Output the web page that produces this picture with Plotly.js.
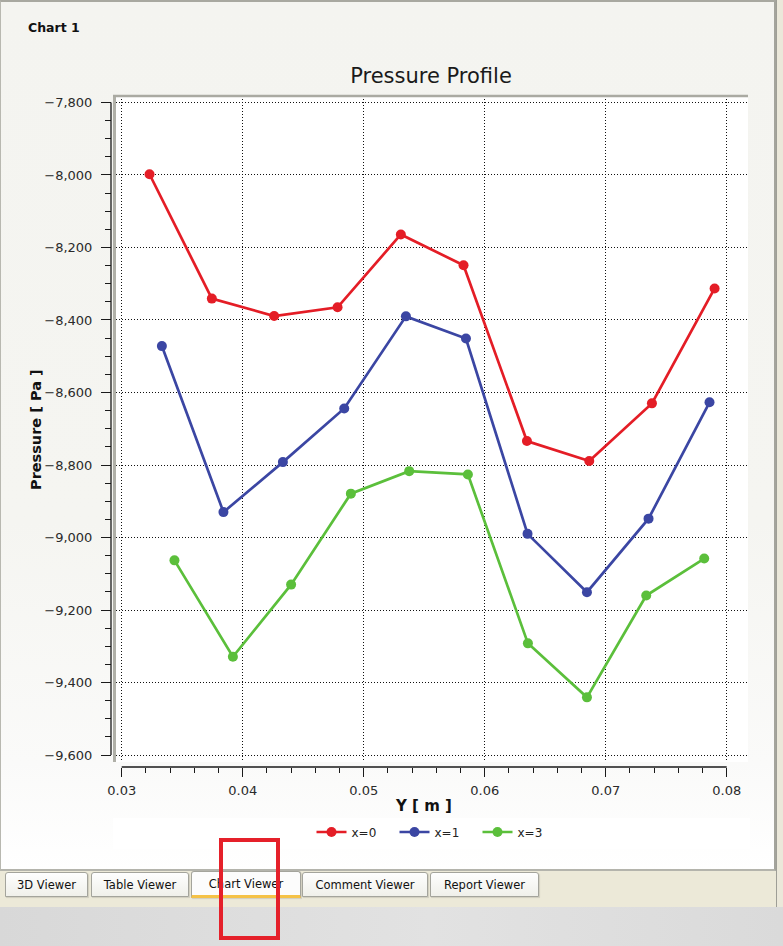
<!DOCTYPE html>
<html>
<head>
<meta charset="utf-8">
<script src="https://cdn.plot.ly/plotly-3.0.1.min.js"></script>
<style>
html,body{margin:0;padding:0;width:783px;height:946px;overflow:hidden;font-family:"DejaVu Sans",sans-serif;}
#page{position:relative;width:783px;height:946px;background:linear-gradient(90deg,#d8d8d8 0%,#e2e2e2 55%,#dadada 100%);}
#tabbar{position:absolute;left:0;top:866px;width:783px;height:41px;background:#ece9d8;}
#rightstrip{position:absolute;left:776px;top:0;width:7px;height:907px;background:#ebe8da;box-sizing:border-box;border-left:1px solid #9e9e96;}
#panel{position:absolute;left:0;top:0;width:776px;height:871px;box-sizing:border-box;border-top:2px solid #a8a8a0;border-left:1px solid #b8b8b0;border-right:2px solid #a4a49c;border-bottom:2px solid #b4b4ac;background:linear-gradient(180deg,#f4f4f0 0px,#f5f5f1 520px,#fafaf9 760px,#ffffff 869px);}
#legbox{position:absolute;left:113px;top:818px;width:637px;height:31px;background:#ffffff;}
#plot{position:absolute;left:0;top:0;width:783px;height:946px;z-index:2;}
.tab{position:absolute;top:872px;height:25px;box-sizing:border-box;border:1px solid #a4a49c;border-top-left-radius:3px;border-top-right-radius:3px;background:linear-gradient(#fefefe,#f0f0ea);font-size:11.5px;color:#111;text-align:center;line-height:24px;z-index:3;box-shadow:1px 1px 1px rgba(0,0,0,0.12);}
.tab.sel{height:27px;top:871px;background:#fcfcfc;border-bottom:3px solid #f5c247;line-height:25px;}
#redbox{position:absolute;left:219px;top:838px;width:61px;height:102px;box-sizing:border-box;border:4px solid #e5202a;z-index:5;}
</style>
</head>
<body>
<div id="page">
  <div id="tabbar"></div>
  <div id="rightstrip"></div>
  <div id="panel"></div>
  <div id="legbox"></div>
  <div id="plot"></div>
  <div class="tab" style="left:5px;width:83px;">3D Viewer</div>
  <div class="tab" style="left:91px;width:98px;">Table Viewer</div>
  <div class="tab sel" style="left:191px;width:110px;">Chart Viewer</div>
  <div class="tab" style="left:302px;width:126px;">Comment Viewer</div>
  <div class="tab" style="left:430px;width:109px;">Report Viewer</div>
  <div id="redbox"></div>
</div>
<script>
// ---- data (Y [m], Pressure [Pa]) ----
const seriesNames = ['x=0', 'x=1', 'x=3'];
const seriesColors = ['#e41d26', '#3b46a3', '#5bbf3b'];

const y_x0 = [0.0323, 0.03745, 0.0426, 0.04784, 0.05307, 0.05825, 0.06349, 0.06864, 0.07382, 0.0790];
const p_x0 = [-7998, -8341, -8389, -8365, -8164, -8249, -8734, -8789, -8630, -8313];

const y_x1 = [0.03332, 0.03841, 0.04332, 0.04839, 0.05349, 0.05845, 0.06354, 0.06845, 0.07354, 0.07858];
const p_x1 = [-8472, -8930, -8792, -8644, -8390, -8451, -8990, -9151, -8948, -8627];

const y_x3 = [0.03436, 0.03919, 0.0440, 0.04894, 0.05376, 0.05861, 0.06357, 0.06845, 0.07335, 0.07814];
const p_x3 = [-9063, -9329, -9130, -8879, -8817, -8826, -9292, -9441, -9160, -9058];

const xTickFirst = 0.03, xTickLast = 0.08, xTickStep = 0.01;
const yTickFirst = -7800, yTickLast = -9600, yTickStep = 200;

const chartLabel = 'Chart 1';
const chartTitle = 'Pressure Profile';
const xTitle = 'Y [ m ]';
const yTitle = 'Pressure [ Pa ]';

// ---- layout geometry ----
const FONT = '"DejaVu Sans", Verdana, sans-serif';
const L = 111, R = 748, T = 96, B = 767;     // plot area (axis lines at L and B)
const W = 783, H = 946;
const px = v => (v - L) / (R - L);
const py = v => (B - v) / (B - T);
const xDom = [px(116), 1];
const yDom = [py(762), 1];
const xRange = [0.029529, 0.08176];
const yRange = [-9619.3, -7782.1];

function xPaper(v) { return xDom[0] + (v - xRange[0]) / (xRange[1] - xRange[0]) * (xDom[1] - xDom[0]); }
function yPaper(v) { return yDom[0] + (v - yRange[0]) / (yRange[1] - yRange[0]) * (yDom[1] - yDom[0]); }

const xs = [y_x0, y_x1, y_x3];
const ys = [p_x0, p_x1, p_x3];
const traces = seriesNames.map((n, i) => ({
  type: 'scatter', mode: 'lines+markers', name: n,
  x: xs[i], y: ys[i],
  line: { color: seriesColors[i], width: 2.7 },
  marker: { color: seriesColors[i], size: 10 },
  cliponaxis: false
}));

const axisCol = '#1a1a1a';
const tickFont = { family: FONT, size: 13, color: '#2a2a2a' };
const layout = {
  width: W, height: H,
  margin: { l: L, r: W - R, t: T, b: H - B, pad: 0 },
  paper_bgcolor: 'rgba(0,0,0,0)',
  plot_bgcolor: '#ffffff',
  font: { family: FONT, color: '#1a1a1a' },
  title: {
    text: chartTitle, font: { family: FONT, size: 21, color: '#1a1a1a' },
    xref: 'container', yref: 'container', x: 431 / W, xanchor: 'center', y: 1 - 76 / H, yanchor: 'middle'
  },
  showlegend: true,
  legend: {
    orientation: 'h', x: px(436), xanchor: 'center', y: py(832), yanchor: 'middle',
    bgcolor: 'rgba(0,0,0,0)', font: { family: FONT, size: 12, color: '#222' },
    entrywidth: 38, entrywidthmode: 'pixels'
  },
  xaxis: {
    range: xRange, domain: xDom, anchor: 'free', position: 0,
    tick0: xTickFirst, dtick: xTickStep, tickformat: '.2f',
    ticks: 'outside', ticklen: 9, tickwidth: 1, tickcolor: axisCol,
    minor: { dtick: xTickStep / 5, ticks: 'outside', ticklen: 5, tickwidth: 1, tickcolor: axisCol, showgrid: false },
    showgrid: true, gridcolor: '#111', gridwidth: 1, griddash: '1px,2px',
    showline: false, zeroline: false,
    tickfont: tickFont, ticklabelstandoff: 2
  },
  yaxis: {
    range: yRange, domain: yDom, anchor: 'free', position: 0,
    tick0: yTickFirst, dtick: yTickStep, tickformat: ',d',
    ticks: 'outside', ticklen: 10, tickwidth: 1, tickcolor: axisCol,
    minor: { dtick: yTickStep / 4, ticks: 'outside', ticklen: 6, tickwidth: 1, tickcolor: axisCol, showgrid: false },
    showgrid: true, gridcolor: '#111', gridwidth: 1, griddash: '1px,2px',
    showline: false, zeroline: false,
    tickfont: tickFont, ticklabelstandoff: 6
  },
  shapes: [
    // gray frame of plot region
    { type: 'line', xref: 'paper', yref: 'paper', x0: px(114.5), x1: px(114.5), y0: py(96), y1: py(762), line: { color: '#b0b0a8', width: 3 }, layer: 'above' },
    { type: 'line', xref: 'paper', yref: 'paper', x0: px(113), x1: 1, y0: py(96), y1: py(96), line: { color: '#aaaaa2', width: 2.5 }, layer: 'above' },
    // axis lines spanning the tick range
    { type: 'line', xref: 'paper', yref: 'paper', x0: xPaper(xTickFirst), x1: xPaper(xTickLast), y0: 0, y1: 0, line: { color: axisCol, width: 1.3 } },
    { type: 'line', xref: 'paper', yref: 'paper', x0: 0, x1: 0, y0: yPaper(yTickLast), y1: yPaper(yTickFirst), line: { color: axisCol, width: 1.3 } }
  ],
  annotations: [
    { text: '<b>' + chartLabel + '</b>', xref: 'paper', yref: 'paper', x: px(26), y: py(28), xanchor: 'left', yanchor: 'middle', showarrow: false, font: { family: FONT, size: 12.5, color: '#111' } },
    { text: '<b>' + xTitle + '</b>', xref: 'paper', yref: 'paper', x: px(423), y: py(806), xanchor: 'center', yanchor: 'middle', showarrow: false, font: { family: FONT, size: 15, color: '#111' } },
    { text: '<b>' + yTitle + '</b>', xref: 'paper', yref: 'paper', x: px(36), y: py(430), xanchor: 'center', yanchor: 'middle', textangle: -90, showarrow: false, font: { family: FONT, size: 14.5, color: '#111' } }
  ]
};

Plotly.newPlot('plot', traces, layout, { staticPlot: true, displayModeBar: false });
</script>
</body>
</html>
